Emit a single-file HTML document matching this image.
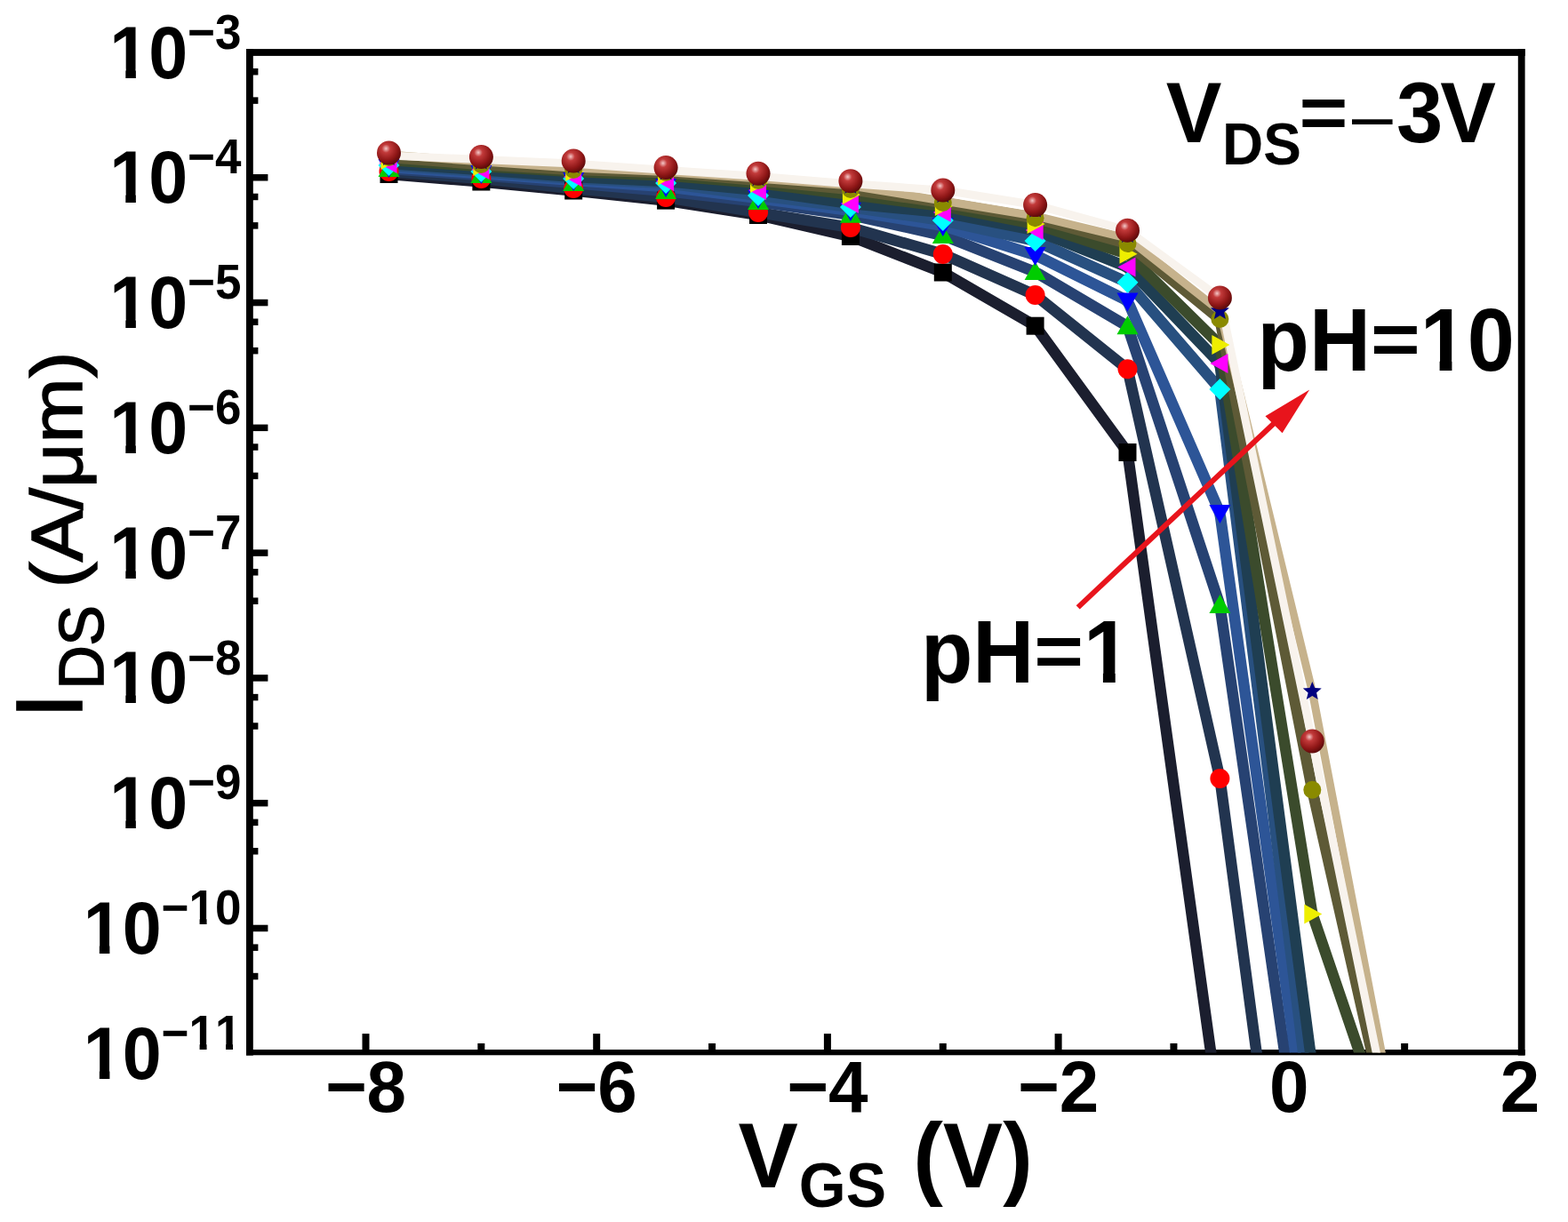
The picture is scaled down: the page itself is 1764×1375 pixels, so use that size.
<!DOCTYPE html><html><head><meta charset="utf-8"><style>html,body{margin:0;padding:0;background:#fff;}svg{display:block;}text{font-kerning:none;}</style></head><body><svg width="1764" height="1375" viewBox="0 0 1764 1375">
<rect x="0" y="0" width="1764" height="1375" fill="#fff"/>
<g fill="#000">
<rect x="277" y="55.1" width="1438.7" height="7.8"/>
<rect x="277" y="1181" width="1438.7" height="6.3"/>
<rect x="277" y="55.1" width="7.8" height="1132.5"/>
<rect x="1707.8" y="55.1" width="7.8" height="1132.5"/>
<rect x="281" y="76.95" width="9.4" height="7.5"/>
<rect x="281" y="109.35" width="9.4" height="7.5"/>
<rect x="281" y="196.03" width="20.4" height="7.5"/>
<rect x="281" y="217.73" width="9.4" height="7.5"/>
<rect x="281" y="250.13" width="9.4" height="7.5"/>
<rect x="281" y="336.81" width="20.4" height="7.5"/>
<rect x="281" y="358.51" width="9.4" height="7.5"/>
<rect x="281" y="390.91" width="9.4" height="7.5"/>
<rect x="281" y="477.59" width="20.4" height="7.5"/>
<rect x="281" y="499.29" width="9.4" height="7.5"/>
<rect x="281" y="531.69" width="9.4" height="7.5"/>
<rect x="281" y="618.37" width="20.4" height="7.5"/>
<rect x="281" y="640.07" width="9.4" height="7.5"/>
<rect x="281" y="672.47" width="9.4" height="7.5"/>
<rect x="281" y="759.15" width="20.4" height="7.5"/>
<rect x="281" y="780.85" width="9.4" height="7.5"/>
<rect x="281" y="813.25" width="9.4" height="7.5"/>
<rect x="281" y="899.93" width="20.4" height="7.5"/>
<rect x="281" y="921.63" width="9.4" height="7.5"/>
<rect x="281" y="954.03" width="9.4" height="7.5"/>
<rect x="281" y="1040.71" width="20.4" height="7.5"/>
<rect x="281" y="1062.41" width="9.4" height="7.5"/>
<rect x="281" y="1094.81" width="9.4" height="7.5"/>
<rect x="407.50" y="1163.1" width="8" height="20"/>
<rect x="537.35" y="1174" width="8" height="9"/>
<rect x="667.20" y="1163.1" width="8" height="20"/>
<rect x="797.05" y="1174" width="8" height="9"/>
<rect x="926.90" y="1163.1" width="8" height="20"/>
<rect x="1056.75" y="1174" width="8" height="9"/>
<rect x="1186.60" y="1163.1" width="8" height="20"/>
<rect x="1316.45" y="1174" width="8" height="9"/>
<rect x="1446.30" y="1163.1" width="8" height="20"/>
<rect x="1576.15" y="1174" width="8" height="9"/>
</g>
<defs><clipPath id="pc"><rect x="281" y="59" width="1431" height="1125.5"/></clipPath><radialGradient id="ball" cx="0.38" cy="0.32" r="0.7"><stop offset="0" stop-color="#f4c8c8"/><stop offset="0.25" stop-color="#c23a3a"/><stop offset="0.7" stop-color="#8e1616"/><stop offset="1" stop-color="#5a0a0a"/></radialGradient></defs>
<g clip-path="url(#pc)" fill="none" stroke-linejoin="round" stroke-linecap="round">
<path d="M437.5,196.0L536.4,204.1Q541.4,204.5 546.3,205.0L640.3,214.0Q645.2,214.5 650.2,215.0L744.1,225.1Q749.1,225.6 754.0,226.4L848.1,241.2Q853.0,242.0 857.9,243.1L952.0,264.9Q956.9,266.0 961.5,267.8L1056.1,304.7Q1060.8,306.5 1065.1,309.0L1160.3,364.2Q1164.6,366.7 1167.6,370.7L1265.6,505.0Q1268.5,509.0 1269.2,514.0L1361.3,1178.0Q1362.0,1183.0 1362.7,1188.0L1390.0,1385.2" stroke="#1b1e2e" stroke-width="12.5"/>
<path d="M437.5,193.0L536.4,200.6Q541.4,201.0 546.3,201.5L640.3,211.5Q645.2,212.0 650.2,212.5L744.1,221.5Q749.1,222.0 754.0,222.8L848.1,238.2Q853.0,239.0 857.9,239.8L951.9,255.2Q956.9,256.0 961.7,257.4L1055.9,284.6Q1060.8,286.0 1065.3,288.0L1160.1,330.0Q1164.6,332.0 1168.5,335.1L1264.6,412.1Q1268.5,415.2 1269.6,420.1L1371.3,871.1Q1372.4,876.0 1373.1,881.0L1412.7,1178.0Q1413.4,1183.0 1414.1,1188.0L1425.7,1275.1" stroke="#22344f" stroke-width="12.5"/>
<path d="M437.5,190.0L536.4,196.7Q541.4,197.0 546.3,197.4L640.2,205.6Q645.2,206.0 650.2,206.4L744.1,214.6Q749.1,215.0 754.1,215.6L848.0,226.4Q853.0,227.0 857.9,227.7L951.9,241.0Q956.9,241.7 961.7,242.8L1055.9,263.9Q1060.8,265.0 1065.4,266.8L1160.0,304.2Q1164.6,306.0 1168.9,308.5L1264.2,364.7Q1268.5,367.2 1270.1,371.9L1370.8,676.3Q1372.4,681.0 1373.1,685.9L1444.3,1178.1Q1445.0,1183.0 1445.7,1187.9L1466.8,1333.6" stroke="#274272" stroke-width="12.5"/>
<path d="M437.5,188.0L536.4,194.7Q541.4,195.0 546.3,195.4L640.2,202.6Q645.2,203.0 650.2,203.3L744.1,209.7Q749.1,210.0 754.1,210.6L848.0,222.4Q853.0,223.0 857.9,223.7L951.9,236.3Q956.9,237.0 961.8,237.8L1055.8,253.2Q1060.8,254.0 1065.5,255.5L1159.9,285.5Q1164.6,287.0 1169.1,289.2L1264.0,336.2Q1268.5,338.4 1270.5,343.0L1370.4,572.4Q1372.4,577.0 1373.1,582.0L1456.3,1178.0Q1457.0,1183.0 1457.7,1188.0L1482.4,1364.8" stroke="#2d5597" stroke-width="12.5"/>
<path d="M437.5,186.0L536.4,192.7Q541.4,193.0 546.3,193.4L640.2,200.6Q645.2,201.0 650.2,201.2L744.1,205.8Q749.1,206.0 754.1,206.7L848.0,219.3Q853.0,220.0 858.0,220.6L951.9,232.4Q956.9,233.0 961.8,233.7L1055.8,247.3Q1060.8,248.0 1065.6,249.1L1159.7,269.9Q1164.6,271.0 1169.2,273.1L1264.0,315.7Q1268.5,317.8 1271.8,321.6L1369.1,434.2Q1372.4,438.0 1373.0,443.0L1465.4,1178.0Q1466.0,1183.0 1466.6,1188.0L1494.1,1406.5" stroke="#285080" stroke-width="12.5"/>
<path d="M437.5,184.0L536.4,190.7Q541.4,191.0 546.3,191.4L640.2,198.6Q645.2,199.0 650.2,199.2L744.1,203.8Q749.1,204.0 754.1,204.5L848.0,213.5Q853.0,214.0 857.9,214.7L951.9,228.3Q956.9,229.0 961.8,229.5L1055.8,238.5Q1060.8,239.0 1065.7,239.9L1159.7,258.1Q1164.6,259.0 1169.3,260.9L1263.9,298.7Q1268.5,300.6 1272.0,304.2L1368.9,405.4Q1372.4,409.0 1373.0,414.0L1473.3,1178.0Q1474.0,1183.0 1474.7,1188.0L1504.5,1415.2" stroke="#1f3e52" stroke-width="12.5"/>
<path d="M437.5,180.0L536.4,186.7Q541.4,187.0 546.3,187.3L640.2,192.7Q645.2,193.0 650.2,193.2L744.1,197.3Q749.1,197.5 754.1,197.9L848.0,205.6Q853.0,206.0 858.0,206.6L951.9,218.4Q956.9,219.0 961.8,219.6L1055.8,231.4Q1060.8,232.0 1065.7,232.9L1159.7,251.1Q1164.6,252.0 1169.4,253.5L1263.8,284.3Q1268.5,285.8 1272.1,289.3L1368.8,384.5Q1372.4,388.0 1373.2,392.9L1475.5,1023.5Q1476.3,1028.4 1477.9,1033.1L1527.4,1178.3Q1529.0,1183.0 1530.6,1187.7L1544.8,1229.4" stroke="#3b4b2c" stroke-width="12.5"/>
<path d="M437.5,177.0L536.4,184.6Q541.4,185.0 546.3,185.3L640.2,190.7Q645.2,191.0 650.2,191.1L744.1,193.9Q749.1,194.0 754.1,194.4L848.0,202.6Q853.0,203.0 858.0,203.5L951.9,212.5Q956.9,213.0 961.8,213.7L1055.8,227.3Q1060.8,228.0 1065.7,228.8L1159.7,244.5Q1164.6,245.3 1169.4,246.6L1263.7,272.7Q1268.5,274.0 1272.4,277.2L1368.5,355.8Q1372.4,359.0 1373.4,363.9L1475.3,883.9Q1476.3,888.8 1477.4,893.7L1541.9,1178.1Q1543.0,1183.0 1544.1,1187.9L1563.0,1271.3" stroke="#5e5a36" stroke-width="12.5"/>
<path d="M437.5,174.0L536.4,181.6Q541.4,182.0 546.3,182.3L640.2,188.7Q645.2,189.0 650.2,189.2L744.1,193.3Q749.1,193.5 754.1,193.9L848.0,200.6Q853.0,201.0 858.0,201.4L951.9,208.6Q956.9,209.0 961.8,209.8L1055.8,225.2Q1060.8,226.0 1065.7,226.8L1159.7,242.2Q1164.6,243.0 1169.5,244.2L1263.6,266.8Q1268.5,268.0 1272.4,271.1L1368.5,346.9Q1372.4,350.0 1373.6,354.9L1475.1,773.1Q1476.3,778.0 1477.2,782.9L1553.1,1178.1Q1554.0,1183.0 1554.9,1187.9L1577.3,1304.5" stroke="#c6b28c" stroke-width="9"/>
<path d="M437.5,175.0L536.4,179.3Q541.4,179.5 546.3,179.7L640.2,183.8Q645.2,184.0 650.2,184.4L744.1,191.1Q749.1,191.5 754.1,191.8L848.0,198.0Q853.0,198.3 858.0,198.7L951.9,206.4Q956.9,206.8 961.9,207.1L1055.8,213.7Q1060.8,214.0 1065.7,214.8L1159.7,229.8Q1164.6,230.6 1169.5,231.9L1263.7,257.9Q1268.5,259.2 1272.5,262.1L1368.4,332.1Q1372.4,335.0 1373.4,339.9L1475.3,829.1Q1476.3,834.0 1477.3,838.9L1547.0,1178.1Q1548.0,1183.0 1549.0,1187.9L1569.5,1287.7" stroke="#f8f3ed" stroke-width="9"/>
</g>
<g clip-path="url(#pc)">
<rect x="427.5" y="186.0" width="20" height="20" fill="#000"/>
<rect x="531.4" y="194.5" width="20" height="20" fill="#000"/>
<rect x="635.2" y="204.5" width="20" height="20" fill="#000"/>
<rect x="739.1" y="215.6" width="20" height="20" fill="#000"/>
<rect x="843.0" y="232.0" width="20" height="20" fill="#000"/>
<rect x="946.9" y="256.0" width="20" height="20" fill="#000"/>
<rect x="1050.8" y="296.5" width="20" height="20" fill="#000"/>
<rect x="1154.6" y="356.7" width="20" height="20" fill="#000"/>
<rect x="1258.5" y="499.0" width="20" height="20" fill="#000"/>
<circle cx="437.5" cy="193.0" r="11" fill="#f00"/>
<circle cx="541.4" cy="201.0" r="11" fill="#f00"/>
<circle cx="645.2" cy="212.0" r="11" fill="#f00"/>
<circle cx="749.1" cy="222.0" r="11" fill="#f00"/>
<circle cx="853.0" cy="239.0" r="11" fill="#f00"/>
<circle cx="956.9" cy="256.0" r="11" fill="#f00"/>
<circle cx="1060.8" cy="286.0" r="11" fill="#f00"/>
<circle cx="1164.6" cy="332.0" r="11" fill="#f00"/>
<circle cx="1268.5" cy="415.2" r="11" fill="#f00"/>
<circle cx="1372.4" cy="876.0" r="11" fill="#f00"/>
<polygon points="437.5,178.0 449.5,199.0 425.5,199.0" fill="#0c0"/>
<polygon points="541.4,185.0 553.4,206.0 529.4,206.0" fill="#0c0"/>
<polygon points="645.2,194.0 657.2,215.0 633.2,215.0" fill="#0c0"/>
<polygon points="749.1,203.0 761.1,224.0 737.1,224.0" fill="#0c0"/>
<polygon points="853.0,215.0 865.0,236.0 841.0,236.0" fill="#0c0"/>
<polygon points="956.9,229.7 968.9,250.7 944.9,250.7" fill="#0c0"/>
<polygon points="1060.8,253.0 1072.8,274.0 1048.8,274.0" fill="#0c0"/>
<polygon points="1164.6,294.0 1176.6,315.0 1152.6,315.0" fill="#0c0"/>
<polygon points="1268.5,355.2 1280.5,376.2 1256.5,376.2" fill="#0c0"/>
<polygon points="1372.4,669.0 1384.4,690.0 1360.4,690.0" fill="#0c0"/>
<polygon points="437.5,200.0 449.5,179.0 425.5,179.0" fill="#00f"/>
<polygon points="541.4,207.0 553.4,186.0 529.4,186.0" fill="#00f"/>
<polygon points="645.2,215.0 657.2,194.0 633.2,194.0" fill="#00f"/>
<polygon points="749.1,222.0 761.1,201.0 737.1,201.0" fill="#00f"/>
<polygon points="853.0,235.0 865.0,214.0 841.0,214.0" fill="#00f"/>
<polygon points="956.9,249.0 968.9,228.0 944.9,228.0" fill="#00f"/>
<polygon points="1060.8,266.0 1072.8,245.0 1048.8,245.0" fill="#00f"/>
<polygon points="1164.6,299.0 1176.6,278.0 1152.6,278.0" fill="#00f"/>
<polygon points="1268.5,350.4 1280.5,329.4 1256.5,329.4" fill="#00f"/>
<polygon points="1372.4,589.0 1384.4,568.0 1360.4,568.0" fill="#00f"/>
<polygon points="437.5,174.0 449.5,186.0 437.5,198.0 425.5,186.0" fill="#0ff"/>
<polygon points="541.4,181.0 553.4,193.0 541.4,205.0 529.4,193.0" fill="#0ff"/>
<polygon points="645.2,189.0 657.2,201.0 645.2,213.0 633.2,201.0" fill="#0ff"/>
<polygon points="749.1,194.0 761.1,206.0 749.1,218.0 737.1,206.0" fill="#0ff"/>
<polygon points="853.0,208.0 865.0,220.0 853.0,232.0 841.0,220.0" fill="#0ff"/>
<polygon points="956.9,221.0 968.9,233.0 956.9,245.0 944.9,233.0" fill="#0ff"/>
<polygon points="1060.8,236.0 1072.8,248.0 1060.8,260.0 1048.8,248.0" fill="#0ff"/>
<polygon points="1164.6,259.0 1176.6,271.0 1164.6,283.0 1152.6,271.0" fill="#0ff"/>
<polygon points="1268.5,305.8 1280.5,317.8 1268.5,329.8 1256.5,317.8" fill="#0ff"/>
<polygon points="1372.4,426.0 1384.4,438.0 1372.4,450.0 1360.4,438.0" fill="#0ff"/>
<polygon points="426.5,184.0 446.5,173.0 446.5,195.0" fill="#f0f"/>
<polygon points="530.4,191.0 550.4,180.0 550.4,202.0" fill="#f0f"/>
<polygon points="634.2,199.0 654.2,188.0 654.2,210.0" fill="#f0f"/>
<polygon points="738.1,204.0 758.1,193.0 758.1,215.0" fill="#f0f"/>
<polygon points="842.0,214.0 862.0,203.0 862.0,225.0" fill="#f0f"/>
<polygon points="945.9,229.0 965.9,218.0 965.9,240.0" fill="#f0f"/>
<polygon points="1049.8,239.0 1069.8,228.0 1069.8,250.0" fill="#f0f"/>
<polygon points="1153.6,259.0 1173.6,248.0 1173.6,270.0" fill="#f0f"/>
<polygon points="1257.5,300.6 1277.5,289.6 1277.5,311.6" fill="#f0f"/>
<polygon points="1361.4,409.0 1381.4,398.0 1381.4,420.0" fill="#f0f"/>
<polygon points="448.5,180.0 428.5,169.0 428.5,191.0" fill="#ee0"/>
<polygon points="552.4,187.0 532.4,176.0 532.4,198.0" fill="#ee0"/>
<polygon points="656.2,193.0 636.2,182.0 636.2,204.0" fill="#ee0"/>
<polygon points="760.1,197.5 740.1,186.5 740.1,208.5" fill="#ee0"/>
<polygon points="864.0,206.0 844.0,195.0 844.0,217.0" fill="#ee0"/>
<polygon points="967.9,219.0 947.9,208.0 947.9,230.0" fill="#ee0"/>
<polygon points="1071.8,232.0 1051.8,221.0 1051.8,243.0" fill="#ee0"/>
<polygon points="1175.6,252.0 1155.6,241.0 1155.6,263.0" fill="#ee0"/>
<polygon points="1279.5,285.8 1259.5,274.8 1259.5,296.8" fill="#ee0"/>
<polygon points="1383.4,388.0 1363.4,377.0 1363.4,399.0" fill="#ee0"/>
<polygon points="1487.3,1028.4 1467.3,1017.4 1467.3,1039.4" fill="#ee0"/>
<circle cx="437.5" cy="177.0" r="10" fill="#8a8a00"/>
<circle cx="541.4" cy="185.0" r="10" fill="#8a8a00"/>
<circle cx="645.2" cy="191.0" r="10" fill="#8a8a00"/>
<circle cx="749.1" cy="194.0" r="10" fill="#8a8a00"/>
<circle cx="853.0" cy="203.0" r="10" fill="#8a8a00"/>
<circle cx="956.9" cy="213.0" r="10" fill="#8a8a00"/>
<circle cx="1060.8" cy="228.0" r="10" fill="#8a8a00"/>
<circle cx="1164.6" cy="245.3" r="10" fill="#8a8a00"/>
<circle cx="1268.5" cy="274.0" r="10" fill="#8a8a00"/>
<circle cx="1372.4" cy="359.0" r="10" fill="#8a8a00"/>
<circle cx="1476.3" cy="888.8" r="10" fill="#8a8a00"/>
<polygon points="437.5,166.0 440.4,173.0 447.9,173.6 442.2,178.5 443.9,185.9 437.5,181.9 431.0,185.9 432.8,178.5 427.0,173.6 434.6,173.0" fill="#000080"/>
<polygon points="541.4,170.5 544.3,177.5 551.8,178.1 546.1,183.0 547.8,190.4 541.4,186.4 534.9,190.4 536.6,183.0 530.9,178.1 538.4,177.5" fill="#000080"/>
<polygon points="645.2,175.0 648.1,182.0 655.7,182.6 649.9,187.5 651.7,194.9 645.2,190.9 638.8,194.9 640.5,187.5 634.8,182.6 642.3,182.0" fill="#000080"/>
<polygon points="749.1,182.5 752.0,189.5 759.6,190.1 753.8,195.0 755.6,202.4 749.1,198.4 742.6,202.4 744.4,195.0 738.6,190.1 746.2,189.5" fill="#000080"/>
<polygon points="853.0,189.3 855.9,196.3 863.5,196.9 857.7,201.8 859.5,209.2 853.0,205.2 846.5,209.2 848.3,201.8 842.5,196.9 850.1,196.3" fill="#000080"/>
<polygon points="956.9,197.8 959.8,204.8 967.3,205.4 961.6,210.3 963.3,217.7 956.9,213.8 950.4,217.7 952.2,210.3 946.4,205.4 954.0,204.8" fill="#000080"/>
<polygon points="1060.8,208.0 1063.7,215.0 1071.2,215.6 1065.5,220.5 1067.2,227.9 1060.8,223.9 1054.3,227.9 1056.0,220.5 1050.3,215.6 1057.8,215.0" fill="#000080"/>
<polygon points="1164.6,224.6 1167.5,231.6 1175.1,232.2 1169.3,237.1 1171.1,244.5 1164.6,240.5 1158.2,244.5 1159.9,237.1 1154.2,232.2 1161.7,231.6" fill="#000080"/>
<polygon points="1268.5,253.2 1271.4,260.2 1279.0,260.8 1273.2,265.7 1275.0,273.1 1268.5,269.1 1262.0,273.1 1263.8,265.7 1258.0,260.8 1265.6,260.2" fill="#000080"/>
<polygon points="1372.4,339.0 1375.3,346.0 1382.9,346.6 1377.1,351.5 1378.9,358.9 1372.4,354.9 1365.9,358.9 1367.7,351.5 1361.9,346.6 1369.5,346.0" fill="#000080"/>
<polygon points="1476.3,767.0 1479.2,774.0 1486.7,774.6 1481.0,779.5 1482.7,786.9 1476.3,783.0 1469.8,786.9 1471.6,779.5 1465.8,774.6 1473.4,774.0" fill="#000080"/>
<circle cx="437.5" cy="172.0" r="13.5" fill="url(#ball)"/>
<circle cx="541.4" cy="176.5" r="13.5" fill="url(#ball)"/>
<circle cx="645.2" cy="181.0" r="13.5" fill="url(#ball)"/>
<circle cx="749.1" cy="188.5" r="13.5" fill="url(#ball)"/>
<circle cx="853.0" cy="195.3" r="13.5" fill="url(#ball)"/>
<circle cx="956.9" cy="203.8" r="13.5" fill="url(#ball)"/>
<circle cx="1060.8" cy="214.0" r="13.5" fill="url(#ball)"/>
<circle cx="1164.6" cy="230.6" r="13.5" fill="url(#ball)"/>
<circle cx="1268.5" cy="259.2" r="13.5" fill="url(#ball)"/>
<circle cx="1372.4" cy="335.0" r="13.5" fill="url(#ball)"/>
<circle cx="1476.3" cy="834.0" r="13.5" fill="url(#ball)"/>
</g>
<g transform="translate(123.23,87.50) scale(1,1.045)"><text x="0" y="0" font-family="'Liberation Sans', Arial, sans-serif" font-weight="bold" font-size="79">10<tspan font-size="53" dy="-31.4">−3</tspan></text><rect x="3.78" y="-9.66" width="14.31" height="11.16" fill="#fff"/><rect x="29.63" y="-9.66" width="13.31" height="11.16" fill="#fff"/></g>
<g transform="translate(123.23,228.28) scale(1,1.045)"><text x="0" y="0" font-family="'Liberation Sans', Arial, sans-serif" font-weight="bold" font-size="79">10<tspan font-size="53" dy="-31.4">−4</tspan></text><rect x="3.78" y="-9.66" width="14.31" height="11.16" fill="#fff"/><rect x="29.63" y="-9.66" width="13.31" height="11.16" fill="#fff"/></g>
<g transform="translate(123.23,369.06) scale(1,1.045)"><text x="0" y="0" font-family="'Liberation Sans', Arial, sans-serif" font-weight="bold" font-size="79">10<tspan font-size="53" dy="-31.4">−5</tspan></text><rect x="3.78" y="-9.66" width="14.31" height="11.16" fill="#fff"/><rect x="29.63" y="-9.66" width="13.31" height="11.16" fill="#fff"/></g>
<g transform="translate(123.23,509.84) scale(1,1.045)"><text x="0" y="0" font-family="'Liberation Sans', Arial, sans-serif" font-weight="bold" font-size="79">10<tspan font-size="53" dy="-31.4">−6</tspan></text><rect x="3.78" y="-9.66" width="14.31" height="11.16" fill="#fff"/><rect x="29.63" y="-9.66" width="13.31" height="11.16" fill="#fff"/></g>
<g transform="translate(123.23,650.62) scale(1,1.045)"><text x="0" y="0" font-family="'Liberation Sans', Arial, sans-serif" font-weight="bold" font-size="79">10<tspan font-size="53" dy="-31.4">−7</tspan></text><rect x="3.78" y="-9.66" width="14.31" height="11.16" fill="#fff"/><rect x="29.63" y="-9.66" width="13.31" height="11.16" fill="#fff"/></g>
<g transform="translate(123.23,791.40) scale(1,1.045)"><text x="0" y="0" font-family="'Liberation Sans', Arial, sans-serif" font-weight="bold" font-size="79">10<tspan font-size="53" dy="-31.4">−8</tspan></text><rect x="3.78" y="-9.66" width="14.31" height="11.16" fill="#fff"/><rect x="29.63" y="-9.66" width="13.31" height="11.16" fill="#fff"/></g>
<g transform="translate(123.23,932.18) scale(1,1.045)"><text x="0" y="0" font-family="'Liberation Sans', Arial, sans-serif" font-weight="bold" font-size="79">10<tspan font-size="53" dy="-31.4">−9</tspan></text><rect x="3.78" y="-9.66" width="14.31" height="11.16" fill="#fff"/><rect x="29.63" y="-9.66" width="13.31" height="11.16" fill="#fff"/></g>
<g transform="translate(93.76,1072.96) scale(1,1.045)"><text x="0" y="0" font-family="'Liberation Sans', Arial, sans-serif" font-weight="bold" font-size="79">10<tspan font-size="53" dy="-31.4">−10</tspan></text><rect x="3.78" y="-9.66" width="14.31" height="11.16" fill="#fff"/><rect x="29.63" y="-9.66" width="13.31" height="11.16" fill="#fff"/><rect transform="translate(0,-31.4)" x="120.94" y="-7.01" width="9.88" height="8.51" fill="#fff"/><rect transform="translate(0,-31.4)" x="138.79" y="-7.01" width="9.21" height="8.51" fill="#fff"/></g>
<g transform="translate(93.76,1213.74) scale(1,1.045)"><text x="0" y="0" font-family="'Liberation Sans', Arial, sans-serif" font-weight="bold" font-size="79">10<tspan font-size="53" dy="-31.4">−11</tspan></text><rect x="3.78" y="-9.66" width="14.31" height="11.16" fill="#fff"/><rect x="29.63" y="-9.66" width="13.31" height="11.16" fill="#fff"/><rect transform="translate(0,-31.4)" x="120.94" y="-7.01" width="9.88" height="8.51" fill="#fff"/><rect transform="translate(0,-31.4)" x="138.79" y="-7.01" width="9.21" height="8.51" fill="#fff"/><rect transform="translate(0,-31.4)" x="150.41" y="-7.01" width="9.88" height="8.51" fill="#fff"/><rect transform="translate(0,-31.4)" x="168.26" y="-7.01" width="9.21" height="8.51" fill="#fff"/></g>
<text transform="translate(411.5,1251.4) scale(1,1.03)" font-family="'Liberation Sans', Arial, sans-serif" font-weight="bold" font-size="80" text-anchor="middle">−8</text>
<text transform="translate(671.2,1251.4) scale(1,1.03)" font-family="'Liberation Sans', Arial, sans-serif" font-weight="bold" font-size="80" text-anchor="middle">−6</text>
<text transform="translate(930.9,1251.4) scale(1,1.03)" font-family="'Liberation Sans', Arial, sans-serif" font-weight="bold" font-size="80" text-anchor="middle">−4</text>
<text transform="translate(1190.6,1251.4) scale(1,1.03)" font-family="'Liberation Sans', Arial, sans-serif" font-weight="bold" font-size="80" text-anchor="middle">−2</text>
<text transform="translate(1450.3,1251.4) scale(1,1.03)" font-family="'Liberation Sans', Arial, sans-serif" font-weight="bold" font-size="80" text-anchor="middle">0</text>
<text transform="translate(1710.0,1251.4) scale(1,1.03)" font-family="'Liberation Sans', Arial, sans-serif" font-weight="bold" font-size="80" text-anchor="middle">2</text>
<text transform="translate(0,1336) scale(1,1.025)" font-family="'Liberation Sans', Arial, sans-serif" font-weight="bold" font-size="101"><tspan x="830.5">V</tspan><tspan x="898.8" font-size="68" dy="21.2">GS</tspan><tspan x="1027.2" dy="-21.2">(V)</tspan></text>
<text transform="translate(92.3,0) rotate(-90) scale(1,1.03)" font-family="'Liberation Sans', Arial, sans-serif" font-weight="normal" font-size="102" stroke="#000" stroke-width="1.6"><tspan x="-808.2" y="0">I</tspan><tspan x="-775.6" y="23.3" font-size="68">DS</tspan></text><text transform="translate(92.3,0) rotate(-90) translate(-661.5,0) scale(1.073,1)" font-family="'Liberation Sans', Arial, sans-serif" font-weight="normal" font-size="82" stroke="#000" stroke-width="1.5">(A/μm)</text>
<text transform="translate(0,159.5) scale(1,1.03)" font-family="'Liberation Sans', Arial, sans-serif" font-weight="bold" font-size="94"><tspan x="1311.8">V</tspan><tspan x="1375.1" font-size="64" dy="25.2">DS</tspan><tspan x="1521" font-family="'Liberation Sans', Arial, sans-serif" font-weight="normal" font-size="82" dy="-25.7">–</tspan><tspan x="1571" dy="0.5">3</tspan><tspan x="1620.2">V</tspan></text><text transform="translate(0,154.8) scale(1,0.87)" font-family="'Liberation Sans', Arial, sans-serif" font-weight="bold" font-size="94"><tspan x="1461.6">=</tspan></text>
<g transform="translate(1414.6,417) scale(1,1.04)"><text x="0" y="0" font-family="'Liberation Sans', Arial, sans-serif" font-weight="bold" font-size="95.5">pH<tspan x="183.07">10</tspan></text><g transform="scale(1,0.82)"><text x="127.30" y="-8.3" font-family="'Liberation Sans', Arial, sans-serif" font-weight="bold" font-size="95.5">=</text></g><rect x="187.89" y="-11.35" width="17.12" height="12.85" fill="#fff"/><rect x="218.82" y="-11.35" width="15.91" height="12.85" fill="#fff"/></g>
<g transform="translate(1035.9,768.4) scale(1,1.04)"><text x="0" y="0" font-family="'Liberation Sans', Arial, sans-serif" font-weight="bold" font-size="95.5">pH<tspan x="183.07">1</tspan></text><g transform="scale(1,0.82)"><text x="127.30" y="-8.3" font-family="'Liberation Sans', Arial, sans-serif" font-weight="bold" font-size="95.5">=</text></g><rect x="187.89" y="-11.35" width="17.12" height="12.85" fill="#fff"/><rect x="218.82" y="-11.35" width="15.91" height="12.85" fill="#fff"/></g>
<line x1="1212.7" y1="683.4" x2="1440" y2="470" stroke="#e8141c" stroke-width="6"/>
<polygon points="1473.2,438.4 1423.5,468.3 1442.6,487.3" fill="#e8141c"/>
</svg></body></html>
